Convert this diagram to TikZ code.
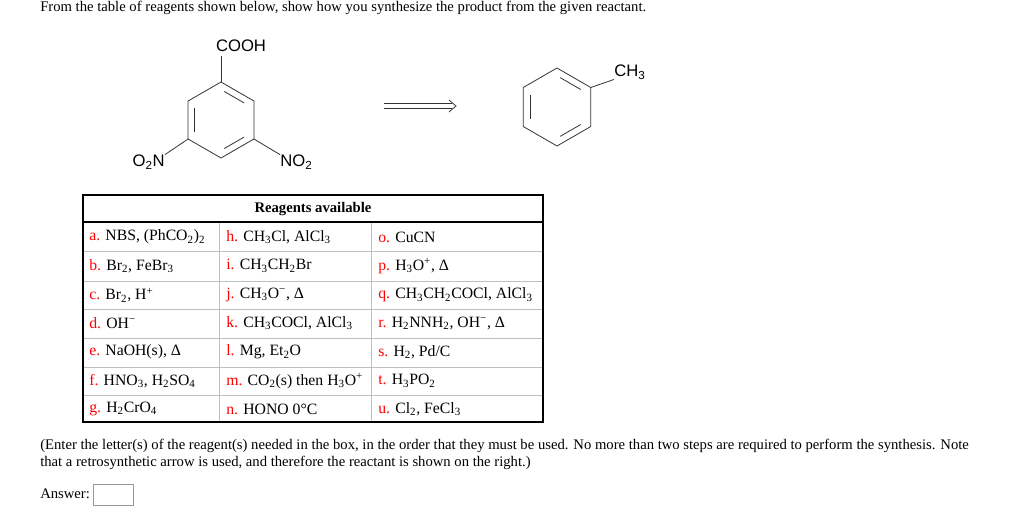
\documentclass[tikz,border=0pt]{standalone}
\usepackage{fontspec}
\usetikzlibrary{calc,arrows.meta}
\setmainfont{Liberation Serif}
\newfontfamily\chemsans{Liberation Sans}
\begin{document}
\begin{tikzpicture}[x=0.75pt,y=-0.75pt,
  bond/.style={draw=black!80,line width=0.6pt},
  lab/.style={font=\chemsans\fontsize{12.5}{14}\selectfont,inner sep=0pt},
  cell/.style={anchor=west,font=\fontsize{11.8}{13}\selectfont,inner sep=0pt},
  txt/.style={anchor=west,font=\fontsize{11}{13}\selectfont,inner sep=0pt},
  grid/.style={draw=black!25,line width=0.6pt}]
\useasboundingbox (0,0) rectangle (1024,524);
\newcommand{\lt}[1]{\textcolor{red}{#1}}
\newcommand{\sbs}[1]{\textsubscript{#1}}
\newcommand{\sps}[1]{\textsuperscript{#1}}
\newcommand{\innerbond}[3]{%
  \draw[bond] ($(#1)!0.15!(#2)$) coordinate (tmpa) ($(#1)!0.15!(#3)$) coordinate (tmpb);
  \draw[bond] ($($(#1)!0.8!(#2)$)!0.12!($(#1)!0.8!(#3)$)$)--($($(#1)!0.8!(#3)$)!0.12!($(#1)!0.8!(#2)$)$);}
\node[txt] (hdr) at (40,8) {From the table of reagents shown below, show how you synthesize the product from the given reactant.};
% left ring
\coordinate (LC) at (221,120);
\foreach \i/\a in {1/90,2/30,3/-30,4/-90,5/-150,6/150}
  \coordinate (L\i) at ($(LC)+(\a:38 and -38)$);
\draw[bond] (L1)--(L2)--(L3)--(L4)--(L5)--(L6)--cycle;
\innerbond{LC}{L6}{L5}
\innerbond{LC}{L1}{L2}
\innerbond{LC}{L3}{L4}
\node[lab] (cooh) at (241,46) {COOH};
\node[lab,anchor=east] (o2n) at (165,162) {O\textsubscript{2}N};
\node[lab,anchor=west] (no2) at (280,162) {NO\textsubscript{2}};
\draw[bond] (L1)--(221,56);
\draw[bond] (L5)--(o2n.north east);
\draw[bond] (L3)--(no2.north west);
% arrow
\coordinate (a1) at (384,103.5); \coordinate (a2) at (452,103.5);
\coordinate (a3) at (384,108.5); \coordinate (a4) at (452,108.5);
\coordinate (a5) at (456,106);
\draw[bond] (a1)--(a2);
\draw[bond] (a3)--(a4);
\draw[bond] ($(a5)+(-7,-6)$)--(a5)--($(a5)+(-7,6)$);
% right ring
\coordinate (RC) at (557,107);
\foreach \i/\a in {1/90,2/30,3/-30,4/-90,5/-150,6/150}
  \coordinate (R\i) at ($(RC)+(\a:39 and -39)$);
\draw[bond] (R1)--(R2)--(R3)--(R4)--(R5)--(R6)--cycle;
\innerbond{RC}{R6}{R5}
\innerbond{RC}{R1}{R2}
\innerbond{RC}{R3}{R4}
\node[lab,anchor=west] (ch3) at (614,72) {CH\textsubscript{3}};
\draw[bond] (R2)--(ch3.south west);
% table
\foreach \y in {251,281,309,338,367,395} \draw[grid] (83,\y)--(543,\y);
\draw[grid] (219,222)--(219,422);
\draw[grid] (371,222)--(371,422);
\draw[line width=1.4pt] (83,222)--(543,222);
\draw[line width=1.4pt] (83,195) rectangle (543,422);
\node[font=\bfseries\fontsize{11}{13}\selectfont] (th) at (313,209) {Reagents available};
\node[cell] (ca) at (89,237) {\lt{a.} NBS, (PhCO\sbs{2})\sbs{2}};
\node[cell] (cb) at (89,266) {\lt{b.} Br\sbs{2}, FeBr\sbs{3}};
\node[cell] (cc) at (89,295) {\lt{c.} Br\sbs{2}, H\sps{+}};
\node[cell] (cd) at (89,323) {\lt{d.} OH\sps{−}};
\node[cell] (ce) at (89,352) {\lt{e.} NaOH(s), Δ};
\node[cell] (cf) at (89,381) {\lt{f.} HNO\sbs{3}, H\sbs{2}SO\sbs{4}};
\node[cell] (cg) at (89,409) {\lt{g.} H\sbs{2}CrO\sbs{4}};
\node[cell] (ch) at (226,237) {\lt{h.} CH\sbs{3}Cl, AlCl\sbs{3}};
\node[cell] (ci) at (226,266) {\lt{i.} CH\sbs{3}CH\sbs{2}Br};
\node[cell] (cj) at (226,295) {\lt{j.} CH\sbs{3}O\sps{−}, Δ};
\node[cell] (ck) at (226,323) {\lt{k.} CH\sbs{3}COCl, AlCl\sbs{3}};
\node[cell] (cl) at (226,352) {\lt{l.} Mg, Et\sbs{2}O};
\node[cell] (cm) at (226,381) {\lt{m.} CO\sbs{2}(s) then H\sbs{3}O\sps{+}};
\node[cell] (cn) at (226,409) {\lt{n.} HONO 0°C};
\node[cell] (co) at (378,237) {\lt{o.} CuCN};
\node[cell] (cp) at (378,266) {\lt{p.} H\sbs{3}O\sps{+}, Δ};
\node[cell] (cq) at (378,295) {\lt{q.} CH\sbs{3}CH\sbs{2}COCl, AlCl\sbs{3}};
\node[cell] (cr) at (378,323) {\lt{r.} H\sbs{2}NNH\sbs{2}, OH\sps{−}, Δ};
\node[cell] (cs) at (378,352) {\lt{s.} H\sbs{2}, Pd/C};
\node[cell] (ct) at (378,381) {\lt{t.} H\sbs{3}PO\sbs{2}};
\node[cell] (cu) at (378,409) {\lt{u.} Cl\sbs{2}, FeCl\sbs{3}};
% footer
\node[txt] (f1) at (40,446) {(Enter the letter(s) of the reagent(s) needed in the box, in the order that they must be used. No more than two steps are required to perform the synthesis. Note};
\node[txt] (f2) at (40,463) {that a retrosynthetic arrow is used, and therefore the reactant is shown on the right.)};
\node[txt] (ans) at (40,494) {Answer:};
\draw[draw=black!40,line width=0.6pt] (93,484) rectangle (133,505);
\end{tikzpicture}
\end{document}
